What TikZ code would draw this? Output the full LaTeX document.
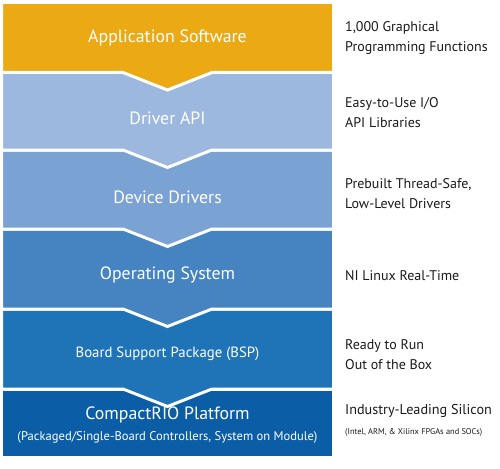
\documentclass[tikz,border=0pt]{standalone}
\usepackage{fontspec}
\setmainfont{PT Sans}
\definecolor{cOrange}{HTML}{EBAA14}
\definecolor{cBlueA}{HTML}{9DB8DE}
\definecolor{cBlueB}{HTML}{7AA2D3}
\definecolor{cBlueC}{HTML}{4683C1}
\definecolor{cBlueD}{HTML}{1F73B7}
\definecolor{cBlueE}{HTML}{0B5DA6}
\definecolor{cText}{HTML}{1A1A1A}
\begin{document}
\begin{tikzpicture}[x=1pt,y=-1pt,
  band/.style={draw=white,line width=3pt,line join=miter},
  title/.style={text=white,font=\fontsize{17.8}{20}\selectfont,inner sep=0pt},
  note/.style={text=cText,anchor=west,align=left,font=\fontsize{14}{20}\selectfont,inner sep=0pt}]
\useasboundingbox (0,0) rectangle (500,468);
% bands, drawn bottom to top
\newcommand{\chevband}[3]{%
  \path[band,fill=#1] (1.5,#2) -- (333.5,#2) -- (333.5,#3) -- (212,#3) -- (167.5,#3+17.5) -- (123,#3) -- (1.5,#3) -- cycle;}
\path[band,fill=cBlueE] (1.5,389) rectangle (333.5,457.5);
\chevband{cBlueD}{309}{389}
\chevband{cBlueC}{229}{309}
\chevband{cBlueB}{150}{229}
\chevband{cBlueA}{72.5}{150}
\chevband{cOrange}{2.5}{72.5}
% titles
\node[title] (t1) at (167.5,38) {Application Software};
\node[title] (t2) at (167.5,118) {Driver API};
\node[title] (t3) at (167.5,197) {Device Drivers};
\node[title] (t4) at (167.5,275) {Operating System};
\node[title,font=\fontsize{14.8}{18}\selectfont] (t5) at (167.5,354) {Board Support Package (BSP)};
\node[title] (t6) at (167.5,415) {CompactRIO Platform};
\node[title,font=\fontsize{12.6}{14}\selectfont] (t6s) at (167.5,437) {(Packaged/Single-Board Controllers, System on Module)};
% notes
\node[note] (n1) at (345,38) {1,000 Graphical\\Programming Functions};
\node[note] (n2) at (345,113) {Easy-to-Use I/O\\API Libraries};
\node[note] (n3) at (345,194) {Prebuilt Thread-Safe,\\Low-Level Drivers};
\node[note] (n4) at (345,276) {NI Linux Real-Time};
\node[note] (n5) at (345,355) {Ready to Run\\Out of the Box};
\node[note,font=\fontsize{14.2}{20}\selectfont] (n6) at (345,411) {Industry-Leading Silicon};
\node[note,font=\fontsize{8.4}{11}\selectfont] (n6s) at (345,432) {(Intel, ARM, \& Xilinx FPGAs and SOCs)};
\end{tikzpicture}
\end{document}
